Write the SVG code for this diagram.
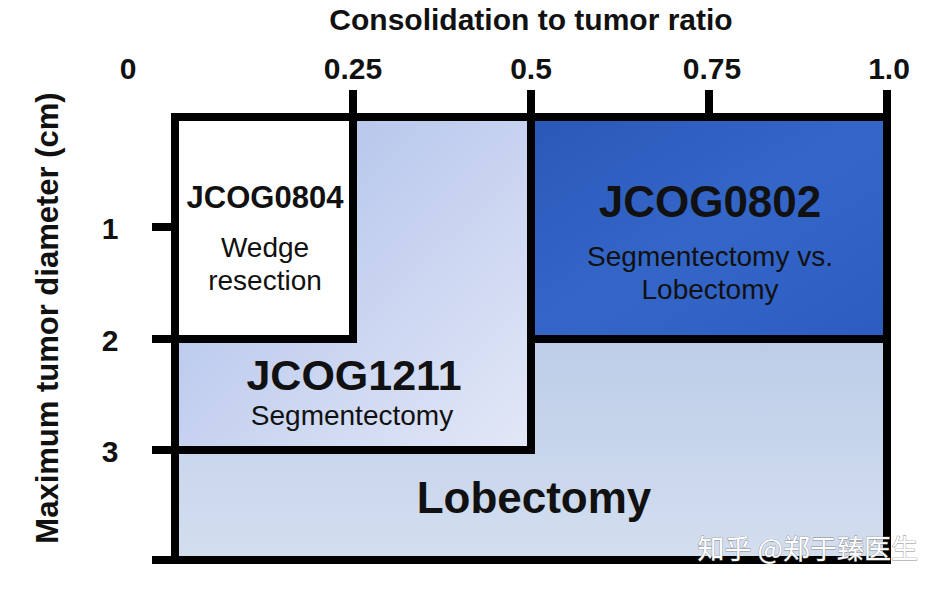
<svg xmlns="http://www.w3.org/2000/svg" width="942" height="589" viewBox="0 0 942 589">
<style>
text{font-family:"Liberation Sans",Arial,sans-serif;fill:#111}
.b{font-weight:bold}
.ax{font-weight:bold;font-size:30px}
.ln{fill:none;stroke:#000;stroke-width:8;stroke-linejoin:miter}
</style>
<defs>
<linearGradient id="g1211" x1="0" y1="0" x2="1" y2="1"><stop offset="0" stop-color="#a9bce8"/><stop offset="1" stop-color="#e3e8f7"/></linearGradient>
<linearGradient id="g0802" x1="0" y1="0" x2="1" y2="1"><stop offset="0" stop-color="#2a58b8"/><stop offset="0.5" stop-color="#3466c8"/><stop offset="1" stop-color="#2d5cc0"/></linearGradient>
<linearGradient id="glob" x1="0" y1="0" x2="0" y2="1"><stop offset="0" stop-color="#a7bce2"/><stop offset="1" stop-color="#d3deef"/></linearGradient>
</defs>
<rect width="942" height="589" fill="#fff"/>
<g id="lobectomy"><rect x="175" y="117" width="712" height="443" fill="url(#glob)"/>
<text x="534" y="513" text-anchor="middle" class="b" font-size="44">Lobectomy</text></g>
<g id="jcog1211"><path d="M175 117H531V450H175Z" fill="url(#g1211)"/>
<text x="354" y="390" text-anchor="middle" class="b" font-size="43">JCOG1211</text>
<text x="352" y="425" text-anchor="middle" font-size="28">Segmentectomy</text></g>
<g id="jcog0804"><rect x="175" y="117" width="178" height="222" fill="#fff"/>
<text x="265" y="208" text-anchor="middle" class="b" font-size="31">JCOG0804</text>
<text x="265" y="257" text-anchor="middle" font-size="28">Wedge</text>
<text x="265" y="290" text-anchor="middle" font-size="28">resection</text></g>
<g id="jcog0802"><rect x="531" y="117" width="356" height="222" fill="url(#g0802)"/>
<text x="710" y="217" text-anchor="middle" class="b" font-size="44">JCOG0802</text>
<text x="710" y="266" text-anchor="middle" font-size="28">Segmentectomy vs.</text>
<text x="710" y="299" text-anchor="middle" font-size="28">Lobectomy</text></g>
<g id="connectors">
<path class="ln" d="M175 560V117H887V560"/>
<path class="ln" d="M152 560H891"/>
<path class="ln" d="M175 339H353V117"/>
<path class="ln" d="M175 450H531V117"/>
<path class="ln" d="M531 339H887"/>
<path class="ln" d="M353 117V90M531 117V90M709 117V90M887 117V90"/>
<path class="ln" d="M152 227H175M152 339H175M152 450H175"/>
</g>
<g id="axes">
<text x="531" y="30" text-anchor="middle" class="b" font-size="30">Consolidation to tumor ratio</text>
<text x="128" y="79" text-anchor="middle" class="ax">0</text>
<text x="353" y="79" text-anchor="middle" class="ax">0.25</text>
<text x="531" y="79" text-anchor="middle" class="ax">0.5</text>
<text x="712" y="79" text-anchor="middle" class="ax">0.75</text>
<text x="889" y="79" text-anchor="middle" class="ax">1.0</text>
<text x="110" y="239" text-anchor="middle" class="ax">1</text>
<text x="110" y="351" text-anchor="middle" class="ax">2</text>
<text x="110" y="462" text-anchor="middle" class="ax">3</text>
<text transform="translate(58,318) rotate(-90)" text-anchor="middle" class="b" font-size="31">Maximum tumor diameter (cm)</text>
</g>
<text x="918" y="559" text-anchor="end" font-size="27" style="font-family:'Noto Sans CJK SC',sans-serif;fill:#fff;stroke:#888;stroke-width:0.8;paint-order:stroke">知乎 @郑于臻医生</text>
</svg>
